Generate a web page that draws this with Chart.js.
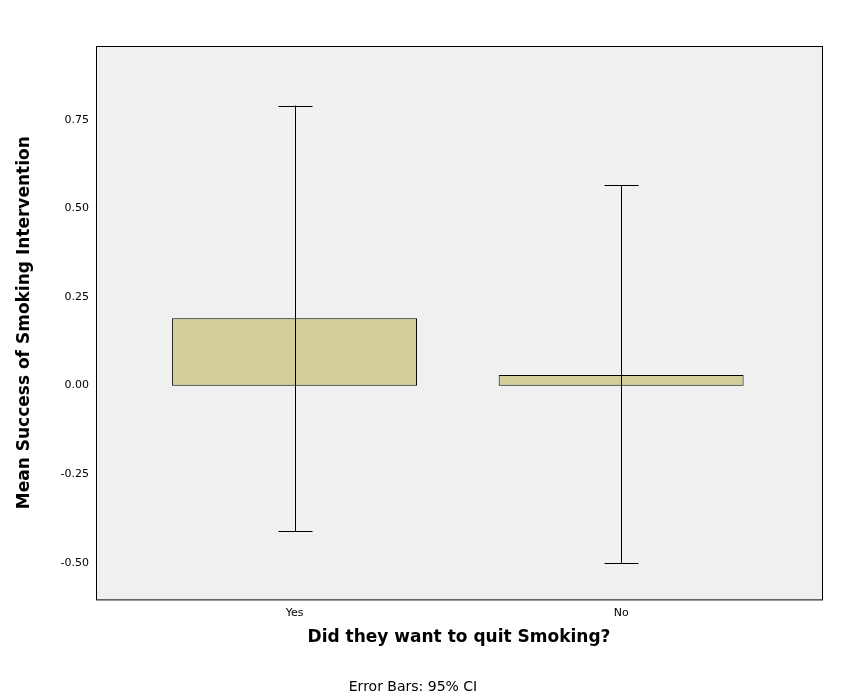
<!DOCTYPE html>
<html><head><script src="https://cdn.jsdelivr.net/npm/chart.js@4"></script>
<style>html,body{margin:0;padding:0;background:#fff}#w{width:848px;height:695px;position:relative}</style></head>
<body><div id="w"><canvas id="c"></canvas></div>
<script>
const categories = ["Yes", "No"];
const means = [0.19, 0.03];
const ciLow = [-0.41, -0.50];
const ciHigh = [0.79, 0.565];
const yTicks = [-0.5, -0.25, 0, 0.25, 0.5, 0.75];

const bgPlugin = {id:'bg', beforeDraw(ch){const a=ch.chartArea,x=ch.ctx;x.save();x.fillStyle='#f0f0f0';x.fillRect(a.left,a.top,a.right-a.left,a.bottom-a.top);x.restore();},
 afterDraw(ch){const a=ch.chartArea,x=ch.ctx;x.save();x.strokeStyle='#000';x.lineWidth=1;x.strokeRect(a.left+0.5,a.top+0.5,a.right-a.left,a.bottom-a.top);
  const xs=ch.scales.x, ys=ch.scales.y;
  categories.forEach((c,i)=>{const cx=Math.round(xs.getPixelForValue(i))+0.5,t=ys.getPixelForValue(ciHigh[i]),b=ys.getPixelForValue(ciLow[i]);
   x.beginPath();x.moveTo(cx,t);x.lineTo(cx,b);x.moveTo(cx-17,Math.round(t)+0.5);x.lineTo(cx+17,Math.round(t)+0.5);x.moveTo(cx-17,Math.round(b)+0.5);x.lineTo(cx+17,Math.round(b)+0.5);x.stroke();});
  x.fillStyle='#000';x.font='14px "DejaVu Sans"';x.textAlign='center';x.textBaseline='middle';x.fillText('Error Bars: 95% CI',413,687);
  x.restore();}};

new Chart(document.getElementById('c'),{type:'bar',
 data:{datasets:[{data:means.map((v,i)=>({x:i,y:v})),backgroundColor:'#d4cf9a',borderColor:'#000',borderWidth:1,borderSkipped:false,categoryPercentage:0.75,barPercentage:1}]},
 options:{responsive:true,maintainAspectRatio:false,animation:false,
  layout:{padding:{top:46,right:26,bottom:43,left:10}},
  plugins:{legend:{display:false},tooltip:{enabled:false}},
  scales:{
   x:{type:'linear',min:-0.608,max:1.615,offset:false,afterBuildTicks(s){s.ticks=[{value:0},{value:1}];},
      grid:{display:false,drawTicks:true,tickLength:5,color:'#000'},border:{display:false},ticks:{color:'#000',font:{family:'DejaVu Sans',size:11},padding:2,callback:v=>categories[v]},
      title:{display:true,text:'Did they want to quit Smoking?',color:'#000',font:{family:'DejaVu Sans',size:17,weight:'bold'},padding:{top:6}}},
   y:{min:-0.603,max:0.958,afterBuildTicks(s){s.ticks=yTicks.map(v=>({value:v}));},
      afterFit(s){s.width=86;},
      grid:{display:false,drawTicks:true,tickLength:5,color:'#000'},border:{display:false},
      ticks:{color:'#000',font:{family:'DejaVu Sans',size:11},padding:2,callback:v=>v.toFixed(2)},
      title:{display:true,text:'Mean Success of Smoking Intervention',color:'#000',font:{family:'DejaVu Sans',size:17,weight:'bold'},padding:{bottom:8}}}}},
 plugins:[bgPlugin]});
</script></body></html>
